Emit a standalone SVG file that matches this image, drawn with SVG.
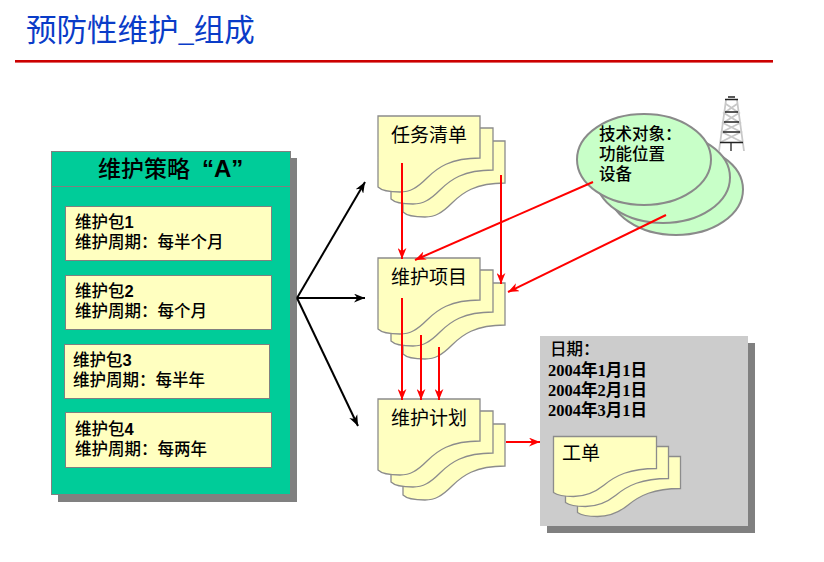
<svg xmlns="http://www.w3.org/2000/svg" width="824" height="562" viewBox="0 0 824 562">
<style>
text{font-family:"Liberation Serif","Noto Sans CJK SC",serif;fill:#000}
.n{font-size:19px}
.t{font-size:16.500px;font-weight:500}
.b{font-family:"Liberation Sans","Noto Sans CJK SC",sans-serif;font-size:16.500px;font-weight:500}
.h{font-weight:bold}
.d{font-size:16.500px;font-weight:bold}
.doc{fill:#ffffc0;stroke:#8c8c8c;stroke-width:1.300}
.el{fill:#c8ffc8;stroke:#8a8a8a;stroke-width:2}
.pk{fill:#ffffc0;stroke:#808080;stroke-width:1}
.r{stroke:#ff0000;stroke-width:2;fill:none;marker-end:url(#ra)}
.k{stroke:#000;stroke-width:2;fill:none;marker-end:url(#ka)}
</style>
<defs>
<marker id="ra" markerUnits="userSpaceOnUse" markerWidth="11" markerHeight="9" refX="10" refY="4" orient="auto" viewBox="0 0 10 8"><path d="M0 0L10 4L0 8L3 4Z" fill="#ff0000"/></marker>
<marker id="ka" markerUnits="userSpaceOnUse" markerWidth="11" markerHeight="9" refX="10" refY="4" orient="auto" viewBox="0 0 10 8"><path d="M0 0L10 4L0 8L3 4Z" fill="#000"/></marker>
<path id="w" class="doc" d="M0 0H102V42C72 42 59 52 49 62C39 72 32 76 22 76C12 76 3 74 0 71Z"/>
<path id="w2" class="doc" d="M0 0H103V32C76 32 62 39 50 49C40 57 30 60 20 60C12 60 4 59 0 56Z"/>
<g id="stack"><use href="#w" x="25" y="25"/><use href="#w" x="13" y="12"/><use href="#w"/></g>
</defs>
<rect width="824" height="562" fill="#fff"/>
<g id="title">
<text x="26" y="41" style="font-size:30.500px;fill:#0a3cc8">预防性维护_组成</text>
<rect x="15" y="60" width="758" height="2.600" fill="#cc0000"/>
</g>
<g id="strategy">
<rect x="58" y="158" width="239" height="344" fill="#808080"/>
<rect x="51.500" y="151.500" width="239" height="343" fill="#00cc99" stroke="#808080"/>
<line x1="51" y1="186.500" x2="290" y2="186.500" stroke="#808080"/>
<text x="98" y="177" style="font-size:23px;font-weight:500">维护策略</text>
<text x="202" y="177" style="font-size:24px;font-weight:bold;font-family:'Liberation Sans',sans-serif">“A”</text>
</g>
<g id="pkg1"><rect class="pk" x="65.500" y="206.500" width="206" height="54"/><text class="b" x="75" y="228">维护包<tspan class="h">1</tspan></text><text class="b" x="75" y="248">维护周期：每半个月</text></g>
<g id="pkg2"><rect class="pk" x="65.500" y="275.500" width="206" height="54"/><text class="b" x="75" y="297">维护包<tspan class="h">2</tspan></text><text class="b" x="75" y="317">维护周期：每个月</text></g>
<g id="pkg3"><rect class="pk" x="64.500" y="344.500" width="205" height="54"/><text class="b" x="73" y="366">维护包<tspan class="h">3</tspan></text><text class="b" x="73" y="386">维护周期：每半年</text></g>
<g id="pkg4"><rect class="pk" x="65.500" y="412.500" width="206" height="55"/><text class="b" x="75" y="435">维护包<tspan class="h">4</tspan></text><text class="b" x="75" y="455">维护周期：每两年</text></g>
<g id="tasks"><use href="#stack" x="378" y="116"/><text class="n" x="391" y="142">任务清单</text></g>
<g id="items"><use href="#stack" x="378" y="258"/><text class="n" x="391" y="284">维护项目</text></g>
<g id="plan"><use href="#stack" x="378" y="399"/><text class="n" x="391" y="425">维护计划</text></g>
<g id="objects">
<ellipse class="el" cx="676" cy="189.500" rx="67" ry="45.500"/>
<ellipse class="el" cx="663" cy="177.500" rx="67" ry="45.500"/>
<ellipse class="el" cx="644" cy="159.500" rx="67" ry="45.500"/>
<text class="t" x="599" y="140">技术对象：</text>
<text class="t" x="599" y="160">功能位置</text>
<text class="t" x="599" y="180">设备</text>
</g>
<g id="tower" fill="none" stroke="#c8c8c8" stroke-width="1.800">
<path d="M726 100L719 151M737 100L744 151M726 104L739 113L723 123L741 132L721 142M737 104L724 113L740 123L722 132L742 142"/>
<path d="M725 99.500H738M728 97H735M725 112H738M724 122H739M723 132H740M720 142.500H743M731 143V151" stroke="#222" stroke-width="1.300"/>
</g>
<g id="workorders">
<rect x="547" y="343" width="208" height="190" fill="#808080"/>
<rect x="540" y="336" width="208" height="190" fill="#cccccc"/>
<text class="t" x="550" y="355">日期：</text>
<text class="d" x="548" y="376">2004年1月1日</text>
<text class="d" x="548" y="396">2004年2月1日</text>
<text class="d" x="548" y="416">2004年3月1日</text>
<use href="#w2" x="577.500" y="456.500"/>
<use href="#w2" x="565.500" y="446.500"/>
<use href="#w2" x="553.500" y="436.500"/>
<text class="n" x="562" y="460">工单</text>
</g>
<g id="connectors">
<path class="k" d="M297 298L365 182"/>
<path class="k" d="M297 298H365"/>
<path class="k" d="M297 298L358 426"/>
<path class="r" d="M402 163V259"/>
<path class="r" d="M501 175V284"/>
<path class="r" d="M593 182L415 260"/>
<path class="r" d="M666 215L508 292"/>
<path class="r" d="M402 298V400"/>
<path class="r" d="M421 335V400"/>
<path class="r" d="M439 347V400"/>
<path class="r" d="M506 442H540"/>
</g>
</svg>
